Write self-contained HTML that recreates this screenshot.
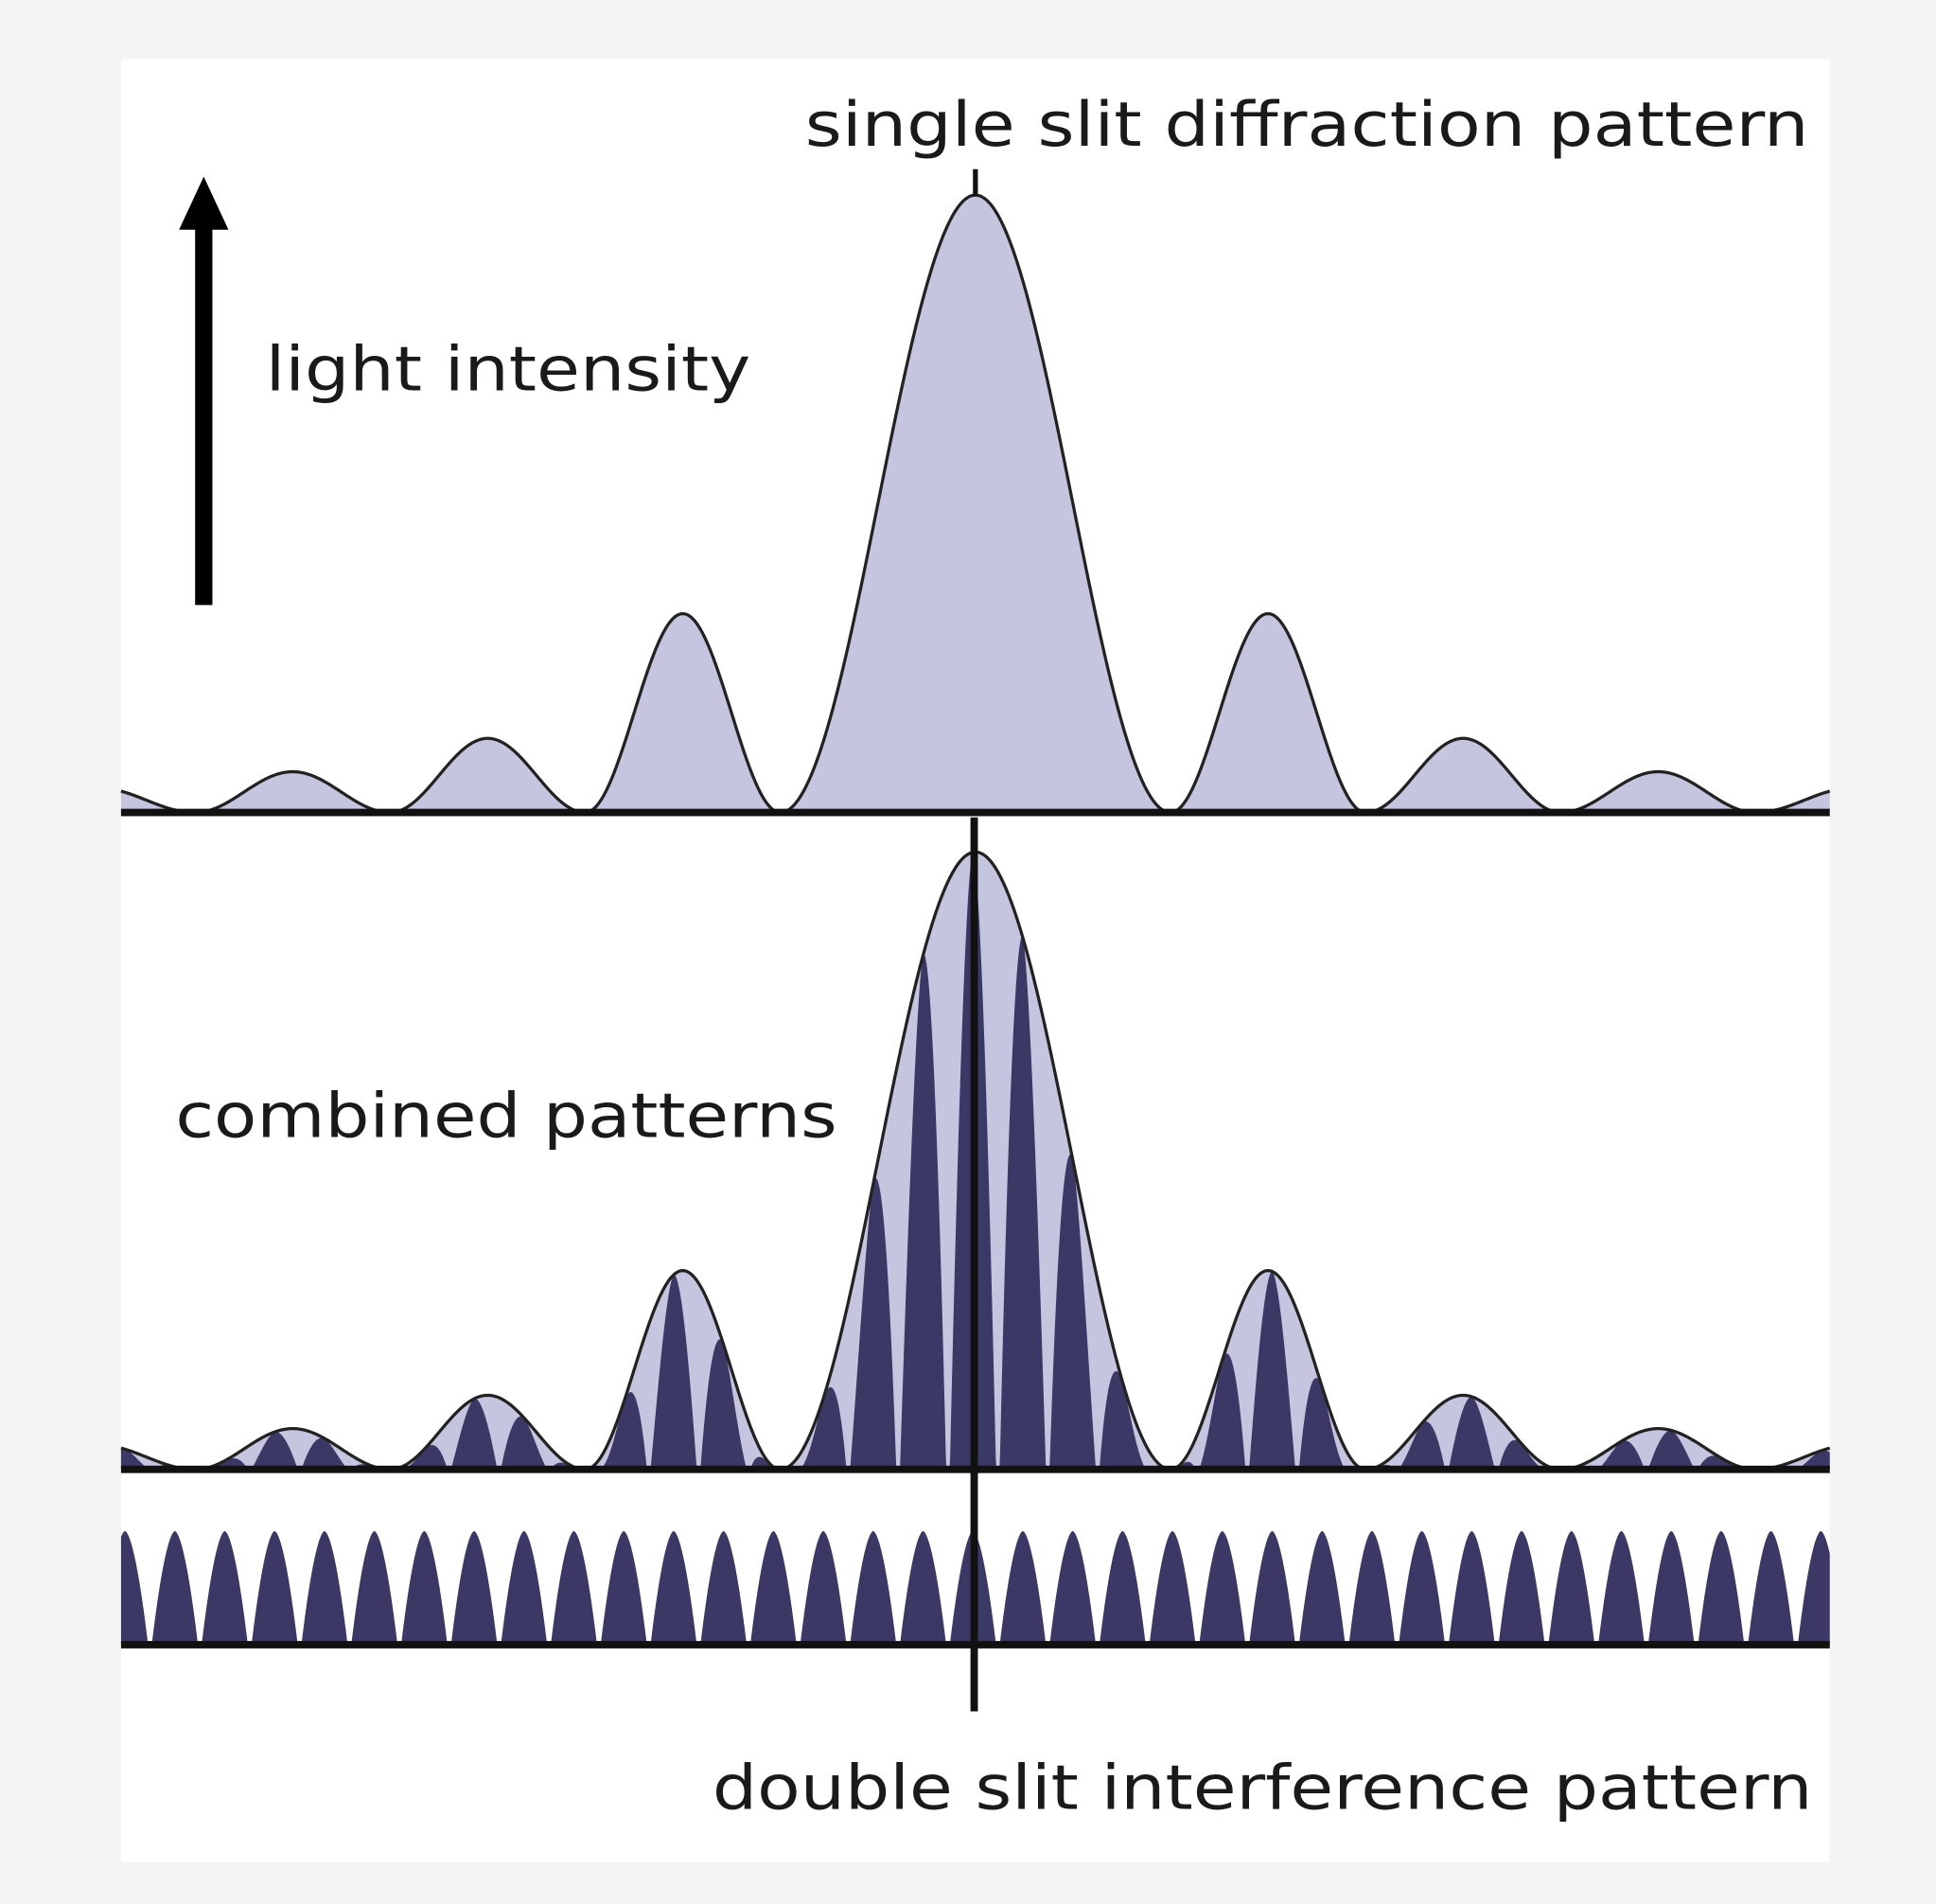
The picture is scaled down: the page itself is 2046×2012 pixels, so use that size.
<!DOCTYPE html>
<html><head><meta charset="utf-8">
<style>
html,body{margin:0;padding:0;background:#f4f4f4;}
svg{display:block;}
text{font-family:"DejaVu Sans","Liberation Sans",sans-serif;fill:#1a1a1a;font-size:50px;}
</style></head>
<body>
<svg id="s" width="2046" height="2012" viewBox="0 0 1568 1542" xmlns="http://www.w3.org/2000/svg">
<rect x="0" y="0" width="1568" height="1542" fill="#f4f4f4"/>
<rect x="98" y="48" width="1384" height="1460" fill="#ffffff"/>
<g id="g"></g>
<text x="652" y="118" textLength="813" lengthAdjust="spacingAndGlyphs">single slit diffraction pattern</text>
<text x="215" y="316" textLength="393" lengthAdjust="spacingAndGlyphs">light intensity</text>
<text x="142" y="921" textLength="536" lengthAdjust="spacingAndGlyphs">combined patterns</text>
<text x="577" y="1465" textLength="891" lengthAdjust="spacingAndGlyphs">double slit interference pattern</text>
<rect x="158" y="180" width="14" height="310" fill="#000"/>
<polygon points="145,186 185,186 165,143" fill="#000"/>
</svg>
<script>
var C=790,W=158,P=40.4;
function E(x){var u=Math.abs((x-C)/W);
 if(u<1){var c=Math.cos(Math.PI*u/2);return 500*c*c;}
 var k=Math.floor(u),h=[0,161,60,33,20,14][Math.min(k,5)],f=u-k,s=Math.sin(Math.PI*f);return h*s*s;}
function F(x){var d=(x-C+2)/P;d=d-Math.round(d);var t=Math.abs(d)*2;return Math.max(0,1-Math.pow(1.08*t,1.7));}
function path(fn,base){var d="M98,"+base;for(var x=98;x<=1482;x+=0.5){d+=" L"+x+","+(base-fn(x)).toFixed(2);}d+=" L1482,"+base+" Z";return d;}
function line(fn,base){var d="";for(var x=98;x<=1482;x+=1){d+=(x==98?"M":" L")+x+","+(base-fn(x)).toFixed(2);}return d;}
var s="";
s+='<path d="'+path(E,658)+'" fill="#c6c5e0"/>';
s+='<path d="'+line(E,658)+'" fill="none" stroke="#222" stroke-width="2.5"/>';
s+='<rect x="98" y="655" width="1384" height="6" fill="#111"/>';
s+='<rect x="788" y="137" width="4" height="22" fill="#111"/>';
s+='<path d="'+path(E,1190)+'" fill="#c6c5e0"/>';
s+='<path d="'+path(function(x){return E(x)*F(x);},1190)+'" fill="#3b3866"/>';
s+='<path d="'+line(E,1190)+'" fill="none" stroke="#222" stroke-width="2.5"/>';
s+='<rect x="98" y="1187" width="1384" height="6" fill="#111"/>';
s+='<path d="'+path(function(x){return 92*F(x);},1332)+'" fill="#3b3866"/>';
s+='<rect x="98" y="1329" width="1384" height="6" fill="#111"/>';
s+='<rect x="786" y="662" width="6" height="724" fill="#111"/>';
document.getElementById("g").innerHTML=s;
</script>
</body></html>
